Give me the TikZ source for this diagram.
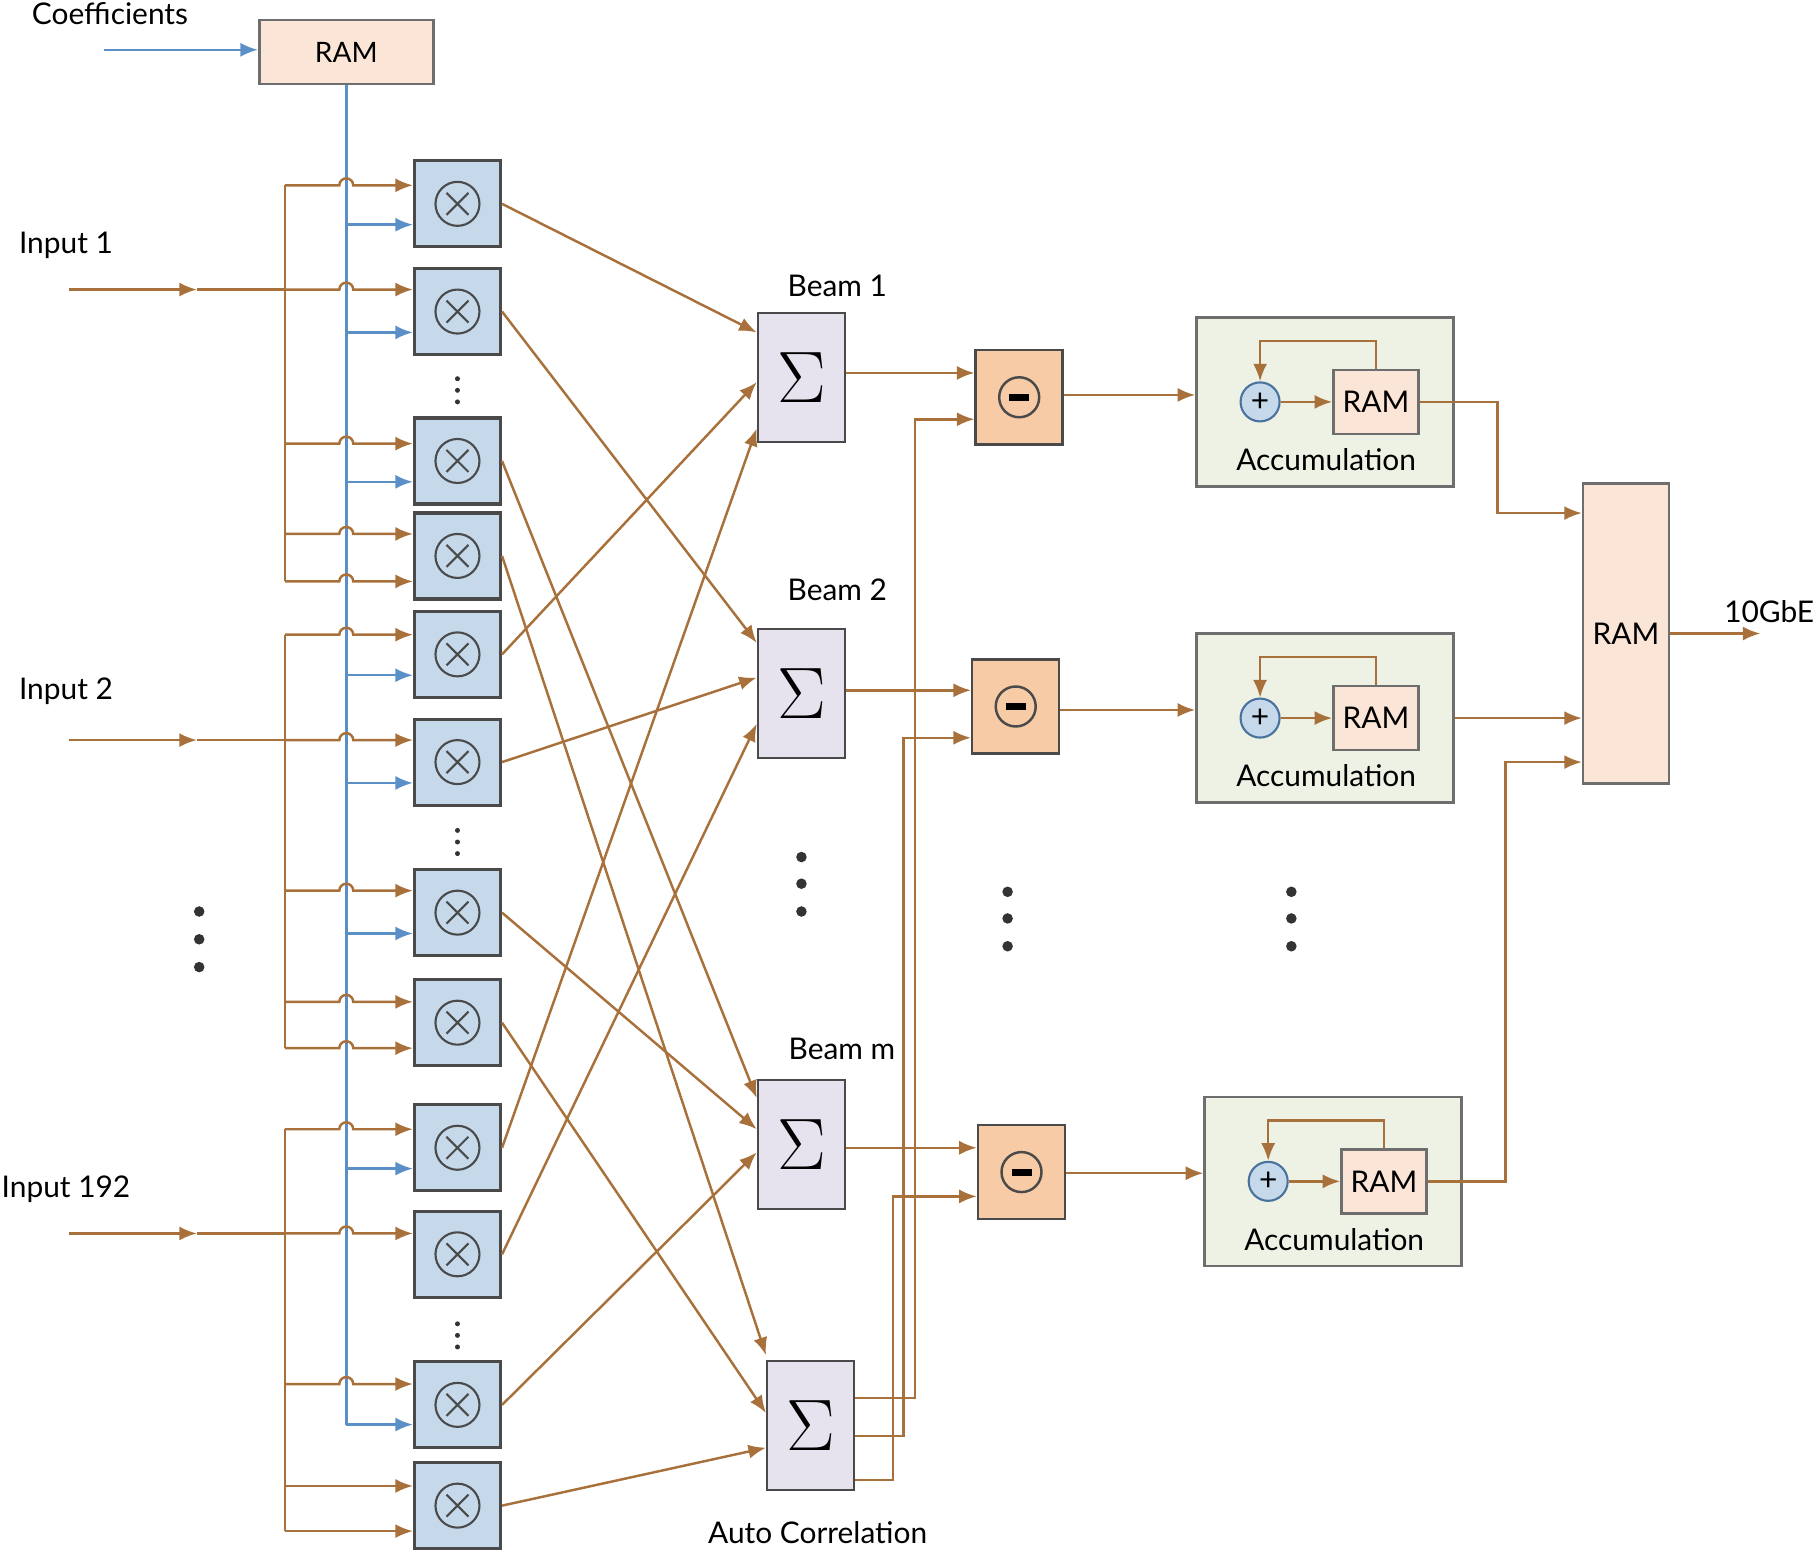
\documentclass[tikz,border=0pt]{standalone}
\usepackage{fontspec}
\setmainfont{Lato}
\usetikzlibrary{arrows.meta,calc}
\definecolor{brn}{HTML}{A8703A}
\definecolor{blu}{HTML}{5B8FC7}
\definecolor{mulfill}{HTML}{C5D9EB}
\definecolor{sumfill}{HTML}{E6E2EE}
\definecolor{subfill}{HTML}{F7CBA5}
\definecolor{ramfill}{HTML}{FBE5D6}
\definecolor{accfill}{HTML}{EEF2E4}
\definecolor{edge}{HTML}{4A4A4A}
\tikzset{
  feed/.style={brn, line width=0.7pt},
  coef/.style={blu, line width=0.7pt},
  tip/.style={-{Latex[length=5pt,width=4pt]}},
  mul/.style={draw=edge, fill=mulfill, line width=0.9pt, minimum width=0.86cm, minimum height=0.86cm, inner sep=0pt},
  sum/.style={draw=edge, fill=sumfill, line width=0.7pt, minimum width=0.87cm, minimum height=1.29cm, inner sep=0pt, font=\fontsize{22}{24}\selectfont},
  sub/.style={draw=edge, fill=subfill, line width=0.7pt, minimum width=0.87cm, minimum height=0.94cm, inner sep=0pt},
  ram/.style={draw=edge!80, fill=ramfill, line width=0.7pt, inner sep=0pt},
  acc/.style={draw=edge!80, fill=accfill, line width=0.7pt, minimum width=2.57cm, minimum height=1.69cm},
  lbl/.style={font=\fontsize{8.5}{10}\selectfont, inner sep=0pt},
  bigdot/.style={fill=black!80, circle, inner sep=0pt, minimum size=3pt}
}
\newcommand{\hop}[2]{% brown feed from bus at y=#1 into node #2 with a jump over the coefficient line
  \draw[feed,tip] (246,#1) -- (293,#1) arc[start angle=180,end angle=360,radius=6] -- (#2.west |- 0,#1);}
\begin{document}
\begin{tikzpicture}[x=0.01158cm, y=-0.01158cm]
    \useasboundingbox (0,0) rectangle (1568,1342);

    % coefficient memory
    \node[lbl] (coeftext) at (95,12) {Coefficients};
    \node[ram, minimum width=1.74cm, minimum height=0.64cm, font=\fontsize{8}{9}\selectfont] (cram) at (299,45) {RAM};
    \draw[coef,tip] (90,43) -- (cram.west |- 0,43);

    % multipliers
    \foreach \n/\y in {1/176,2/269,3/398,4/480,5/565,6/658,7/788,8/883,9/991,10/1083,11/1213,12/1300}{
        \node[mul] (m\n) at (395,\y) {};
        \draw[edge, line width=0.6pt] (m\n) circle[radius=0.22cm];
        \draw[edge, line width=0.6pt] ($(m\n)+(-0.11cm,-0.11cm)$) -- ($(m\n)+(0.11cm,0.11cm)$)
                                      ($(m\n)+(-0.11cm,0.11cm)$) -- ($(m\n)+(0.11cm,-0.11cm)$);
    }
    \foreach \y in {327,337,347,717,727,737,1143,1153,1163}
        \fill[black!80] (395,\y) circle[radius=0.025cm];

    % coefficient bus
    \draw[coef] (cram.south) -- (299,1230);
    \foreach \n/\y in {1/194,2/287,3/416,5/583,6/676,7/806,9/1009,11/1230}
        \draw[coef,tip] (299,\y) -- (m\n.west |- 0,\y);

    % inputs
    \node[lbl] (in1) at (57,212) {Input 1};
    \node[lbl] (in2) at (57,597) {Input 2};
    \node[lbl] (in3) at (57,1027) {Input 192};
    \foreach \y in {787,811,835} \node[bigdot] at (172,\y) {};

    \draw[feed] (246,160) -- (246,502);
    \draw[feed] (246,548) -- (246,905);
    \draw[feed] (246,975) -- (246,1322);
    \draw[feed,tip] (60,250) -- (170,250);
    \draw[feed,tip] (60,639) -- (170,639);
    \draw[feed,tip] (60,1065) -- (170,1065);
    \hop{250}{m2} \hop{639}{m6} \hop{1065}{m10}
    \draw[feed] (170,250) -- (246,250);
    \draw[feed] (170,639) -- (246,639);
    \draw[feed] (170,1065) -- (246,1065);
    \hop{160}{m1} \hop{383}{m3} \hop{461}{m4} \hop{502}{m4}
    \hop{548}{m5} \hop{769}{m7} \hop{865}{m8} \hop{905}{m8}
    \hop{975}{m9} \hop{1195}{m11}
    \draw[feed,tip] (246,1283) -- (m12.west |- 0,1283);
    \draw[feed,tip] (246,1322) -- (m12.west |- 0,1322);

    % beam sums
    \node[sum] (s1) at (692,326) {$\Sigma$};
    \node[sum] (s2) at (692,599) {$\Sigma$};
    \node[sum] (s3) at (692,988) {$\Sigma$};
    \node[sum] (ac) at (700,1231) {$\Sigma$};
    \node[lbl] at (723,247) {Beam 1};
    \node[lbl] at (723,509) {Beam 2};
    \node[lbl] at (727,906) {Beam m};
    \node[lbl] at (706,1323) {Auto Correlation};
    \foreach \y in {740,763,787} \node[bigdot] at (692,\y) {};

    \foreach \n/\s/\y in {1/s1/287,5/s1/330,9/s1/370,2/s2/555,6/s2/585,10/s2/625,3/s3/948,7/s3/975,11/s3/995,4/ac/1170,8/ac/1220,12/ac/1250}
        \draw[feed,tip] (m\n.east) -- (\s.west |- 0,\y);

    % subtraction of auto correlation
    \node[sub] (n1) at (880,343) {};
    \node[sub] (n2) at (877,610) {};
    \node[sub] (n3) at (882,1012) {};
    \foreach \n in {n1,n2,n3}{
        \draw[edge, line width=0.7pt] (\n) circle[radius=0.2cm];
        \draw[black, line width=2pt] ($(\n)+(-0.1cm,0)$) -- ($(\n)+(0.1cm,0)$);
    }
    \foreach \y in {770,793,817} \node[bigdot] at (870,\y) {};

    \draw[feed,tip] (s1.east |- 0,322) -- (n1.west |- 0,322);
    \draw[feed,tip] (s2.east |- 0,596) -- (n2.west |- 0,596);
    \draw[feed,tip] (s3.east |- 0,991) -- (n3.west |- 0,991);
    \draw[feed,tip] (ac.east |- 0,1207) -- (790,1207) |- (n1.west |- 0,362);
    \draw[feed,tip] (ac.east |- 0,1240) -- (780,1240) |- (n2.west |- 0,637);
    \draw[feed,tip] (ac.east |- 0,1278) -- (771,1278) |- (n3.west |- 0,1033);

    % accumulation
    \foreach \k/\x/\y in {1/1144/347,2/1144/620,3/1151/1020}{
        \node[acc] (acc\k) at (\x,\y) {};
        \node[circle, draw=blu!80!black, fill=mulfill, line width=0.6pt, minimum size=0.39cm, inner sep=0pt, font=\fontsize{9}{9}\selectfont] (p\k) at ($(\x,\y)+(-56,0)$) {+};
        \node[ram, minimum width=0.85cm, minimum height=0.64cm, font=\fontsize{8.5}{10}\selectfont] (r\k) at ($(\x,\y)+(44,0)$) {RAM};
        \node[lbl] at ($(\x,\y)+(1,50)$) {Accumulation};
        \draw[feed,tip] (p\k) -- (r\k);
        \draw[feed,tip] (r\k.north) -- ++(0,-24) -| (p\k.north);
    }
    \foreach \y in {770,793,817} \node[bigdot] at (1115,\y) {};
    \draw[feed,tip] (n1.east |- 0,341) -- (acc1.west |- 0,341);
    \draw[feed,tip] (n2.east |- 0,613) -- (acc2.west |- 0,613);
    \draw[feed,tip] (n3.east |- 0,1013) -- (acc3.west |- 0,1013);

    % output memory
    \node[ram, minimum width=0.86cm, minimum height=3.0cm, font=\fontsize{8.5}{10}\selectfont] (ro) at (1404,547) {RAM};
    \draw[feed,tip] (r1.east) -| (1293,443) -- (ro.west |- 0,443);
    \draw[feed,tip] (acc2.east |- r2) -- (ro.west |- r2);
    \draw[feed,tip] (r3.east) -| (1300,658) -- (ro.west |- 0,658);
    \draw[feed,tip] (ro.east) -- (1520,547);
    \node[lbl, anchor=east] (gbe) at (1567,528) {10GbE};

\end{tikzpicture}
\end{document}
